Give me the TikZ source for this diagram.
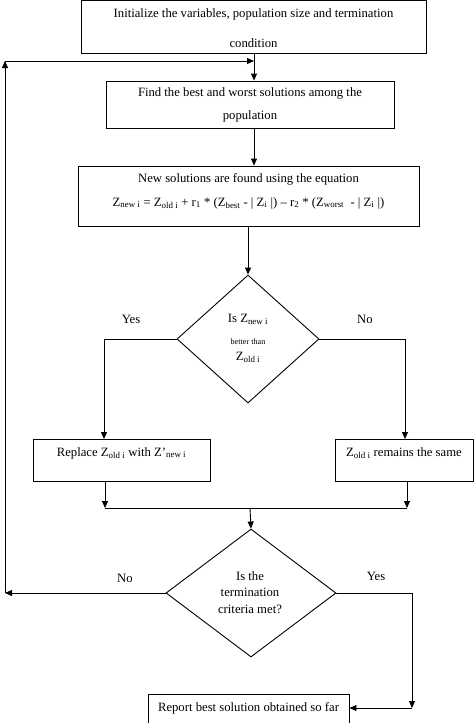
\documentclass[tikz,border=0pt]{standalone}
\usepackage{fontspec}
\setmainfont{Liberation Serif}
\usetikzlibrary{arrows.meta,shapes.geometric}
\tikzset{
  box/.style={draw, line width=0.9pt, inner sep=0pt, rectangle},
  dec/.style={draw, line width=0.9pt, inner sep=0pt, diamond},
  txt/.style={inner sep=0pt, font=\fontsize{12.7}{15}\selectfont},
  small/.style={inner sep=0pt, font=\fontsize{8.2}{10}\selectfont},
  arr/.style={line width=0.9pt, -{Triangle[length=7pt,width=6pt]}},
  ln/.style={line width=0.9pt}
}
\begin{document}
\begin{tikzpicture}[x=1pt,y=-1pt]
\useasboundingbox[fill=white] (0,0) rectangle (474,723);
% boxes
\node[box, minimum width=345pt, minimum height=53pt] (b1) at (253.5,26.5) {};
\node[box, minimum width=288pt, minimum height=47pt] (b2) at (250,104.5) {};
\node[box, minimum width=341pt, minimum height=60pt] (b3) at (248.5,196) {};
\node[dec, minimum width=142pt, minimum height=128pt] (d1) at (248,339) {};
\node[box, minimum width=177pt, minimum height=42pt] (b4) at (121.5,460) {};
\node[box, minimum width=138pt, minimum height=42pt] (b5) at (404,460) {};
\node[dec, minimum width=170pt, minimum height=128pt] (d2) at (251,593) {};
\node[box, minimum width=201pt, minimum height=46pt] (b6) at (248.5,717) {};
% texts
\node[txt] (t1a) at (253.5,14) {Initialize the variables, population size and termination};
\node[txt] (t1b) at (253.5,43) {condition};
\node[txt] (t2a) at (250,93) {Find the best and worst solutions among the};
\node[txt] (t2b) at (250,116) {population};
\node[txt] (t3a) at (248.5,179) {New solutions are found using the equation};
\node[txt] (t3b) at (248.5,203) {Z\textsubscript{new i} = Z\textsubscript{old i} + r\textsubscript{1} * (Z\textsubscript{best} - | Z\textsubscript{i} |) – r\textsubscript{2} * (Z\textsubscript{worst}~ - | Z\textsubscript{i} |)};
\node[txt] (q1a) at (248,319) {Is Z\textsubscript{new i}};
\node[small] (q1b) at (248,342) {better than};
\node[txt] (q1c) at (248,357) {Z\textsubscript{old i}};
\node[txt] (yes1) at (131,319) {Yes};
\node[txt] (no1) at (365,319) {No};
\node[txt] (t4) at (121.5,453) {Replace Z\textsubscript{old i} with Z’\textsubscript{new i}};
\node[txt] (t5) at (404,453) {Z\textsubscript{old i} remains the same};
\node[txt] (q2a) at (250,576) {Is the};
\node[txt] (q2b) at (250,592) {termination};
\node[txt] (q2c) at (250,609) {criteria met?};
\node[txt] (no2) at (125,578) {No};
\node[txt] (yes2) at (376,576) {Yes};
\node[txt] (t6) at (248.5,708) {Report best solution obtained so far};
% coordinates
\coordinate (lt) at (5,61);
\coordinate (lb) at (5,593);
\coordinate (c1) at (254,53);
\coordinate (b4in) at (104,439);
\coordinate (b5in) at (405,439);
\coordinate (m1) at (105,508);
\coordinate (m2) at (407,508);
\coordinate (m3) at (250,508);
\coordinate (yc) at (412,708);
% connectors
\draw[arr] (c1) -- (c1 |- b2.north);
\draw[arr] (lb) -- (lt);
\draw[arr] (lt) -- (c1 |- lt);
\draw[arr] (c1 |- b2.south) -- (c1 |- b3.north);
\draw[arr] (b3.south -| d1.north) -- (d1.north);
\draw[arr] (d1.west) -| (b4in);
\draw[arr] (d1.east) -| (b5in);
\draw[arr] (m1 |- b4.south) -- (m1);
\draw[arr] (m2 |- b5.south) -- (m2);
\draw[ln] (m1) -- (m2);
\draw[arr] (m3) -- (d2.north);
\draw[arr] (d2.west) -- (lb);
\draw[arr] (d2.east) -| (yc);
\draw[arr] (yc) -- (b6.east |- yc);
\end{tikzpicture}
\end{document}
